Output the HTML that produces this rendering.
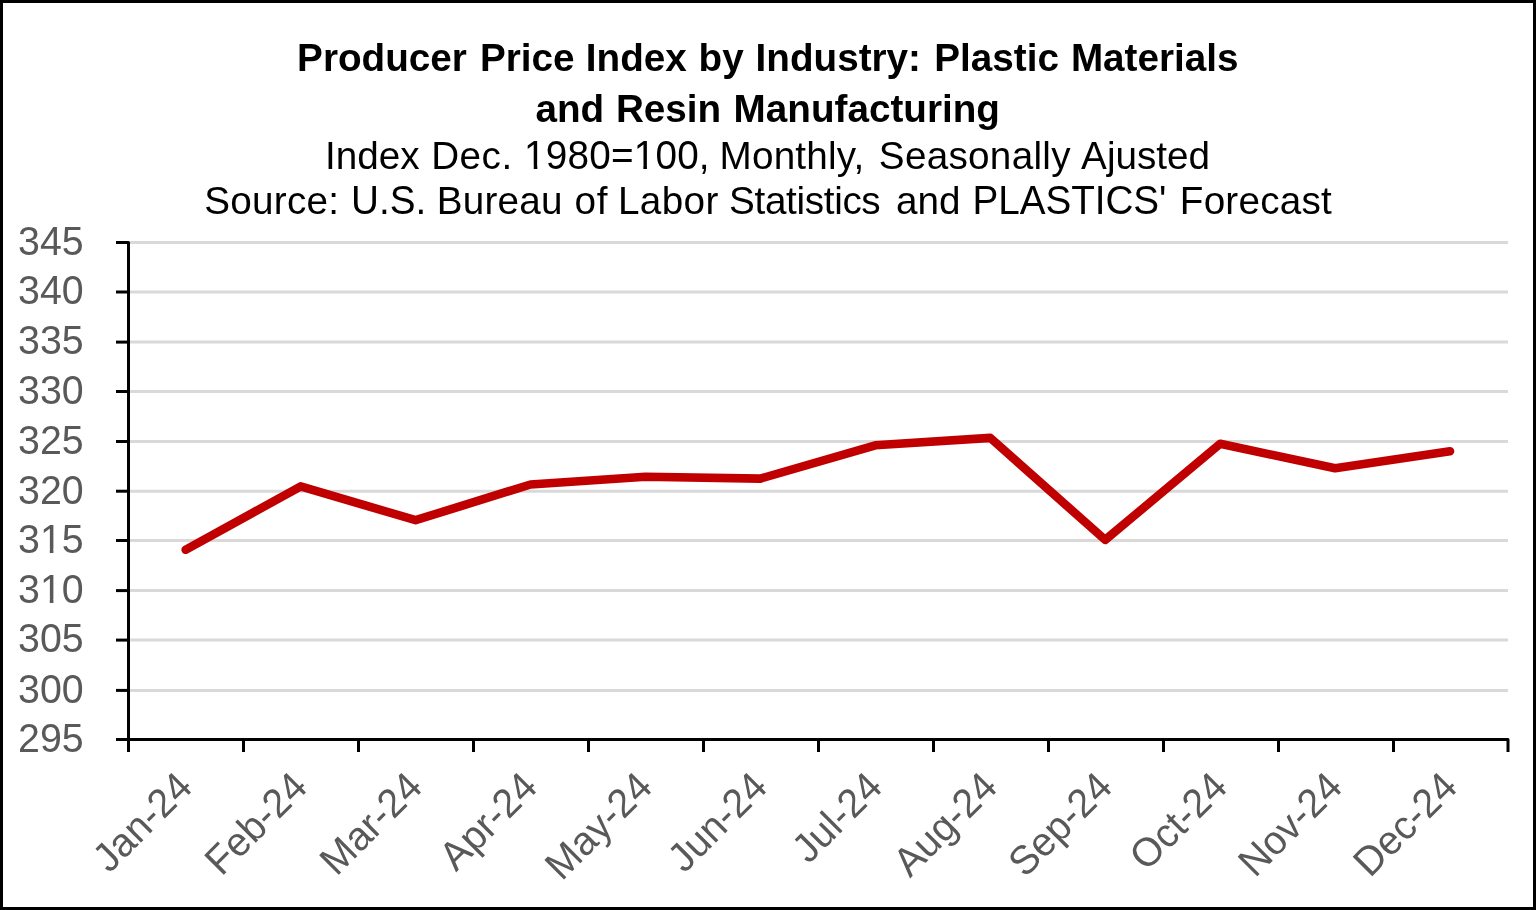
<!DOCTYPE html>
<html lang="en">
<head>
<meta charset="utf-8">
<title>Producer Price Index by Industry: Plastic Materials and Resin Manufacturing</title>
<style>
  html, body { margin: 0; padding: 0; background: #ffffff; }
  body { width: 1536px; height: 910px; overflow: hidden; position: relative;
         font-family: "Liberation Sans", sans-serif; }
  #frame { position: absolute; left: 0; top: 0; width: 1530px; height: 904px;
           border: 3px solid #000000; background: #ffffff; }
  svg { position: absolute; left: 0; top: 0; will-change: transform; }
  text { font-family: "Liberation Sans", sans-serif; font-size: 38.67px; white-space: pre; }
  .ttl { font-weight: bold; fill: #000000; }
  .sub { font-weight: normal; fill: #000000; }
  .yl text { fill: #595959; text-anchor: end; }
  .xl text { fill: #595959; text-anchor: end; font-size: 39.3px; }
</style>
</head>
<body>
<div id="frame"></div>
<svg width="1536" height="910" viewBox="0 0 1536 910">
  <!-- chart title -->
  <text class="ttl" y="70.9"><tspan x="297.1">Producer</tspan> <tspan x="480.0">Price</tspan> <tspan x="585.8">Index</tspan> <tspan x="698.6">by</tspan> <tspan x="755.6">Industry:</tspan> <tspan x="934.3">Plastic</tspan> <tspan x="1070.9">Materials</tspan></text>
  <text class="ttl" y="122.3"><tspan x="535.5">and</tspan> <tspan x="615.9">Resin</tspan> <tspan x="733.6">Manufacturing</tspan></text>
  <text class="sub" y="169.2"><tspan x="325.0">Index</tspan> <tspan x="431.2" textLength="81.0">Dec.</tspan></text>
  <text class="sub" transform="translate(524.1,169.2) scale(1,1.04)" textLength="185.5">1980=100,</text>
  <text class="sub" y="169.2"><tspan x="719.5" textLength="144.8">Monthly,</tspan> <tspan x="878.8" textLength="191.7">Seasonally</tspan> <tspan x="1081.1">Ajusted</tspan></text>
  <text class="sub" y="214.0"><tspan x="204.3" textLength="134.8">Source:</tspan></text>
  <text class="sub" transform="translate(351.1,214.0) scale(1,1.04)">U.S.</text>
  <text class="sub" y="214.0"><tspan x="436.8" textLength="125.7">Bureau</tspan> <tspan x="574.5" textLength="33.1">of</tspan> <tspan x="617.9" textLength="100.4">Labor</tspan> <tspan x="729.1" textLength="151.6">Statistics</tspan> <tspan x="896.1">and</tspan></text>
  <text class="sub" transform="translate(972.6,214.0) scale(1,1.04)" textLength="193.9">PLASTICS&#39;</text>
  <text class="sub" y="214.0"><tspan x="1179.8" textLength="151.9">Forecast</tspan></text>

  <!-- horizontal gridlines -->
  <g stroke="#d9d9d9" stroke-width="3" fill="none">
    <line x1="130.0" y1="242.50" x2="1508.0" y2="242.50"/>
    <line x1="130.0" y1="292.00" x2="1508.0" y2="292.00"/>
    <line x1="130.0" y1="342.10" x2="1508.0" y2="342.10"/>
    <line x1="130.0" y1="391.50" x2="1508.0" y2="391.50"/>
    <line x1="130.0" y1="441.50" x2="1508.0" y2="441.50"/>
    <line x1="130.0" y1="491.20" x2="1508.0" y2="491.20"/>
    <line x1="130.0" y1="540.50" x2="1508.0" y2="540.50"/>
    <line x1="130.0" y1="590.60" x2="1508.0" y2="590.60"/>
    <line x1="130.0" y1="640.10" x2="1508.0" y2="640.10"/>
    <line x1="130.0" y1="690.40" x2="1508.0" y2="690.40"/>
  </g>

  <!-- data series -->
  <polyline fill="none" stroke="#c00000" stroke-width="8.6" stroke-linecap="round" stroke-linejoin="round"
    points="185.7,549.8 300.6,486.4 415.6,520.2 530.5,484.5 645.5,476.8 760.4,478.6 875.3,445.3 990.3,437.9 1105.2,539.9 1220.2,443.7 1335.1,468.3 1450.0,451.3"/>

  <!-- axes and tick marks -->
  <g stroke="#000000" stroke-width="3" fill="none">
    <!-- value axis with top tick (joined) -->
    <polyline stroke-linejoin="round" points="116.0,242.5 128.5,242.5 128.5,752.0"/>
    <!-- category axis with last tick (joined) -->
    <polyline stroke-linejoin="round" points="116.0,739.5 1508.0,739.5 1508.0,752.0"/>
    <line x1="116.0" y1="292.00" x2="128.5" y2="292.00"/>
    <line x1="116.0" y1="342.10" x2="128.5" y2="342.10"/>
    <line x1="116.0" y1="391.50" x2="128.5" y2="391.50"/>
    <line x1="116.0" y1="441.50" x2="128.5" y2="441.50"/>
    <line x1="116.0" y1="491.20" x2="128.5" y2="491.20"/>
    <line x1="116.0" y1="540.50" x2="128.5" y2="540.50"/>
    <line x1="116.0" y1="590.60" x2="128.5" y2="590.60"/>
    <line x1="116.0" y1="640.10" x2="128.5" y2="640.10"/>
    <line x1="116.0" y1="690.40" x2="128.5" y2="690.40"/>
    <line x1="243.5" y1="739.5" x2="243.5" y2="752.0"/>
    <line x1="358.5" y1="739.5" x2="358.5" y2="752.0"/>
    <line x1="473.5" y1="739.5" x2="473.5" y2="752.0"/>
    <line x1="588.5" y1="739.5" x2="588.5" y2="752.0"/>
    <line x1="703.5" y1="739.5" x2="703.5" y2="752.0"/>
    <line x1="818.5" y1="739.5" x2="818.5" y2="752.0"/>
    <line x1="933.5" y1="739.5" x2="933.5" y2="752.0"/>
    <line x1="1048.5" y1="739.5" x2="1048.5" y2="752.0"/>
    <line x1="1163.5" y1="739.5" x2="1163.5" y2="752.0"/>
    <line x1="1278.5" y1="739.5" x2="1278.5" y2="752.0"/>
    <line x1="1393.5" y1="739.5" x2="1393.5" y2="752.0"/>
  </g>

  <!-- value axis labels -->
  <g class="yl">
    <text transform="translate(83.7,254.80) scale(1.017,1.05)">345</text>
    <text transform="translate(83.7,304.30) scale(1.017,1.05)">340</text>
    <text transform="translate(83.7,354.40) scale(1.017,1.05)">335</text>
    <text transform="translate(83.7,403.80) scale(1.017,1.05)">330</text>
    <text transform="translate(83.7,453.80) scale(1.017,1.05)">325</text>
    <text transform="translate(83.7,503.50) scale(1.017,1.05)">320</text>
    <text transform="translate(83.7,552.80) scale(1.017,1.05)">315</text>
    <text transform="translate(83.7,602.90) scale(1.017,1.05)">310</text>
    <text transform="translate(83.7,652.40) scale(1.017,1.05)">305</text>
    <text transform="translate(83.7,702.70) scale(1.017,1.05)">300</text>
    <text transform="translate(83.7,751.80) scale(1.017,1.05)">295</text>
  </g>
  <!-- hide the foot serif of the digit 1 (target font has a plain 1) -->
  <g>
    <g transform="translate(39.96,552.80) scale(0.019203,-0.019826)" fill="#ffffff"><rect x="40" y="-60" width="471" height="245"/><rect x="700" y="-60" width="480" height="245"/></g>
    <g transform="translate(39.96,602.90) scale(0.019203,-0.019826)" fill="#ffffff"><rect x="40" y="-60" width="471" height="245"/><rect x="700" y="-60" width="480" height="245"/></g>
    <g transform="translate(524.10,169.20) scale(0.018882,-0.019637)" fill="#ffffff"><rect x="40" y="-60" width="471" height="245"/><rect x="700" y="-60" width="480" height="245"/></g>
    <g transform="translate(633.71,169.20) scale(0.018882,-0.019637)" fill="#ffffff"><rect x="40" y="-60" width="471" height="245"/><rect x="700" y="-60" width="480" height="245"/></g>
  </g>

  <!-- category axis labels, rotated -45deg -->
  <g class="xl">
    <text transform="translate(194.5,789.0) rotate(-45) scale(1,1.025)">Jan-24</text>
    <text transform="translate(309.5,789.0) rotate(-45) scale(1,1.025)">Feb-24</text>
    <text transform="translate(424.5,789.0) rotate(-45) scale(1,1.025)">Mar-24</text>
    <text transform="translate(539.5,789.0) rotate(-45) scale(1,1.025)">Apr-24</text>
    <text transform="translate(654.5,789.0) rotate(-45) scale(1,1.025)">May-24</text>
    <text transform="translate(769.5,789.0) rotate(-45) scale(1,1.025)">Jun-24</text>
    <text transform="translate(884.5,789.0) rotate(-45) scale(1,1.025)">Jul-24</text>
    <text transform="translate(999.5,789.0) rotate(-45) scale(1,1.025)">Aug-24</text>
    <text transform="translate(1114.5,789.0) rotate(-45) scale(1,1.025)">Sep-24</text>
    <text transform="translate(1229.5,789.0) rotate(-45) scale(1,1.025)">Oct-24</text>
    <text transform="translate(1344.5,789.0) rotate(-45) scale(1,1.025)">Nov-24</text>
    <text transform="translate(1459.5,789.0) rotate(-45) scale(1,1.025)">Dec-24</text>
  </g>
</svg>
</body>
</html>
